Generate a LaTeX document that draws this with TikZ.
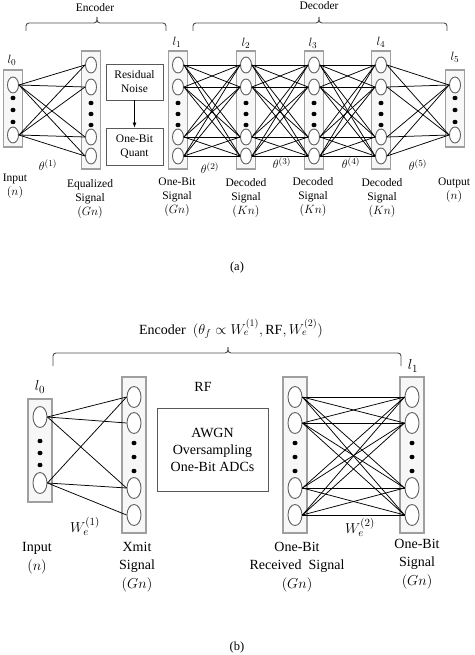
\documentclass[tikz,border=0pt]{standalone}
\usepackage{fontspec}
\setmainfont{Liberation Serif}
\usepackage{amsmath}
\usepackage{amssymb}
\usetikzlibrary{shapes.geometric,arrows.meta}

\begin{document}
\begin{tikzpicture}[x=1pt, y=-1pt,
  layer/.style={draw=gray!75, line width=1.8pt, fill=gray!6, inner sep=0pt, minimum width=19pt},
  neuron/.style={ellipse, draw=gray!75!black, line width=0.9pt, fill=white, inner sep=0pt, minimum width=11pt, minimum height=16pt},
  bigneuron/.style={neuron, minimum width=14pt, minimum height=21pt},
  blob/.style={ellipse, fill=black, inner sep=0pt, minimum width=5pt, minimum height=4.5pt},
  wire/.style={black, line width=0.75pt},
  stage/.style={draw=gray!70!black, line width=0.8pt, align=center, inner sep=0pt},
  lbl/.style={align=center, font=\fontsize{11.5}{14}\selectfont},
  mlbl/.style={font=\fontsize{12.5}{15}\selectfont},
  blbl/.style={align=center, font=\fontsize{14}{18.5}\selectfont},
  bmlbl/.style={font=\fontsize{15}{18}\selectfont},
  brace/.style={gray!60!black, line width=0.9pt, rounded corners=3pt}]
\useasboundingbox (0,0) rectangle (474,655);

% (a)
\foreach \nm/\x in {a0/13, a6/455} {
  \node [layer, minimum height=77pt] (\nm) at (\x,108.5) {};
  \node [neuron] (\nm-1) at (\x,85) {};
  \node [neuron] (\nm-2) at (\x,135) {};
  \foreach \y in {98,110,122} \node [blob] at (\x,\y) {};
}
\foreach \nm/\x in {a1/91, a2/178, a3/246, a4/314, a5/381} {
  \node [layer, minimum height=118pt] (\nm) at (\x,110) {};
  \foreach \i/\y in {1/65, 2/87, 3/137, 4/156} \node [neuron] (\nm-\i) at (\x,\y) {};
  \foreach \y in {103,114,125} \node [blob] at (\x,\y) {};
}
\foreach \i in {1,2} \foreach \j in {1,...,4} \draw [wire] (a0-\i.east) -- (a1-\j.west);
\foreach \a/\b in {a2/a3, a3/a4, a4/a5}
  \foreach \i in {1,...,4} \foreach \j in {1,...,4} \draw [wire] (\a-\i.east) -- (\b-\j.west);
\foreach \i in {1,...,4} \foreach \j in {1,2} \draw [wire] (a5-\i.east) -- (a6-\j.west);

\node [stage, minimum width=57pt, minimum height=36pt, font=\fontsize{11.5}{14}\selectfont] (noise) at (134.5,82) {Residual\\Noise};
\node [stage, minimum width=57pt, minimum height=37pt, font=\fontsize{11.5}{14}\selectfont] (quant) at (134.5,146.5) {One-Bit\\Quant};
\draw [-{Latex[length=5pt,width=4pt]}, line width=0.8pt] (noise) -- (quant);

\node [mlbl] (l0a) at (12,60) {$l_0$};
\node [mlbl] (l1a) at (177,42) {$l_1$};
\node [mlbl] (l2a) at (246,43) {$l_2$};
\node [mlbl] (l3a) at (313,43) {$l_3$};
\node [mlbl] (l4a) at (381,42) {$l_4$};
\node [mlbl] (l5a) at (455,57) {$l_5$};

\node [mlbl] (th1) at (48,165) {$\theta^{(1)}$};
\node [mlbl] (th2) at (210,168) {$\theta^{(2)}$};
\node [mlbl] (th3) at (282,163) {$\theta^{(3)}$};
\node [mlbl] (th4) at (351,163) {$\theta^{(4)}$};
\node [mlbl] (th5) at (418,165) {$\theta^{(5)}$};

\node [lbl] (ina) at (15,186) {Input\\$(n)$};
\node [lbl] (eqa) at (90,199) {Equalized\\Signal\\$(Gn)$};
\node [lbl] (oba) at (177,197) {One-Bit\\Signal\\$(Gn)$};
\node [lbl] (de2) at (246,198) {Decoded\\Signal\\$(Kn)$};
\node [lbl] (de3) at (313,197) {Decoded\\Signal\\$(Kn)$};
\node [lbl] (de4) at (382,198) {Decoded\\Signal\\$(Kn)$};
\node [lbl] (outa) at (454,190) {Output\\$(n)$};

\draw [brace] (26,31) |- (97,23) -- (97,17);
\draw [brace] (166,31) |- (97,23) -- (97,17);
\node [lbl, anchor=base] (enca) at (95,12) {Encoder};
\draw [brace] (193,31) |- (319,23) -- (319,17);
\draw [brace] (447,31) |- (319,23) -- (319,17);
\node [lbl, anchor=base] (deca) at (319,10) {Decoder};

\node [lbl, font=\fontsize{12.5}{15}\selectfont] (capa) at (237,267) {(a)};

% (b)
\node [layer, minimum width=24pt, minimum height=103pt] (b0) at (40,450.5) {};
\node [bigneuron] (b0-1) at (40,417) {};
\node [bigneuron] (b0-2) at (40,483) {};
\foreach \y in {441,453,465} \node [blob] at (40,\y) {};
\foreach \nm/\x in {b1/134, b2/295, b3/412} {
  \node [layer, minimum width=24pt, minimum height=156pt] (\nm) at (\x,455) {};
  \foreach \i/\y in {1/397, 2/423, 3/488, 4/515} \node [bigneuron] (\nm-\i) at (\x,\y) {};
  \foreach \y in {443,457,471} \node [blob] at (\x,\y) {};
}
\foreach \j in {1,2,3} \draw [wire] (b0-1.east) -- (b1-\j.west);
\foreach \j in {1,3,4} \draw [wire] (b0-2.east) -- (b1-\j.west);
\foreach \i in {1,...,4} \foreach \j in {1,...,4} \draw [wire] (b2-\i.east) -- (b3-\j.west);

\node [stage, minimum width=111pt, minimum height=83pt, font=\fontsize{14}{17}\selectfont] (awgn) at (212.5,449.5) {AWGN\\Oversampling\\One-Bit ADCs};
\node [blbl] (rf) at (203,387) {RF};

\node [bmlbl] (l0b) at (40,387) {$l_0$};
\node [bmlbl] (l1b) at (413,366) {$l_1$};
\node [bmlbl] (we1) at (85,526) {$W_e^{(1)}$};
\node [bmlbl] (we2) at (360,527) {$W_e^{(2)}$};

\node [blbl] (inb) at (37,558) {Input\\$(n)$};
\node [blbl] (xmit) at (137,567) {Xmit\\Signal\\$(Gn)$};
\node [blbl] (recv) at (297,567) {One-Bit\\Received\ \ Signal\\$(Gn)$};
\node [blbl] (obb) at (417,564) {One-Bit\\Signal\\$(Gn)$};

\draw [brace] (53,366) |- (228,353) -- (228,347);
\draw [brace] (401,366) |- (228,353) -- (228,347);
\node [blbl, anchor=base] (encb) at (231,334) {Encoder\ \ $(\theta_f \propto W_e^{(1)}, \mathrm{RF}, W_e^{(2)})$};

\node [lbl, font=\fontsize{12.5}{15}\selectfont] (capb) at (237,647) {(b)};
\end{tikzpicture}
\end{document}
